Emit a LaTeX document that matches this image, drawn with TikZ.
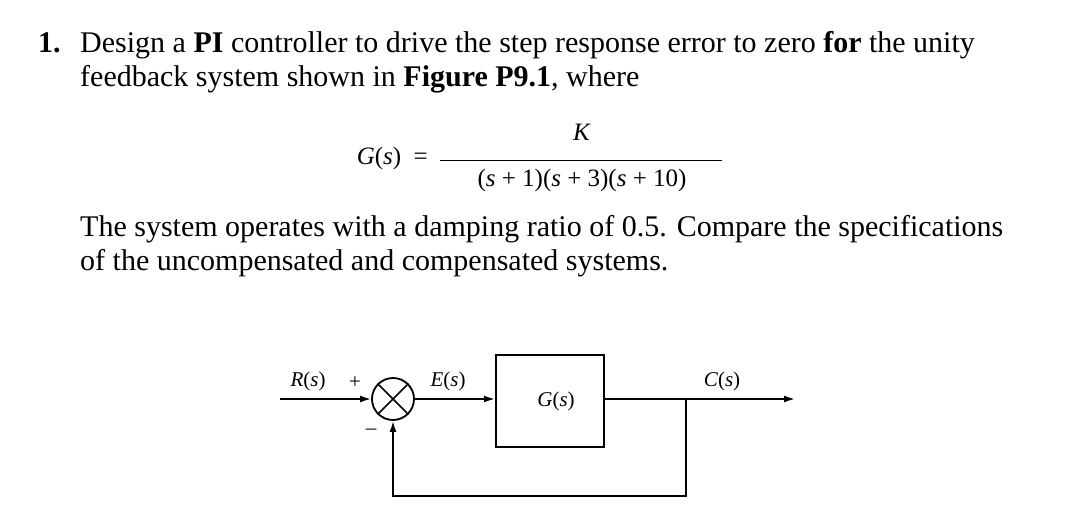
\documentclass[tikz,border=0pt]{standalone}
\usepackage{fontspec}
\setmainfont{Liberation Serif}
\usetikzlibrary{arrows.meta}
\newcommand{\iv}[1]{\textit{#1}}
\begin{document}
\begin{tikzpicture}[x=1pt,y=-1pt,
  txt/.style={anchor=base west,inner sep=0pt,font=\fontsize{30}{34}\selectfont},
  lbl/.style={inner sep=0pt,font=\fontsize{21}{24}\selectfont},
  sig/.style={line width=1.8pt},
  arr/.style={sig,-{Latex[length=11pt,width=7pt]}}]
\useasboundingbox (0,0) rectangle (1080,522);
\node[txt] (n1) at (38,52) {\textbf{1.}};
\node[txt] (l1) at (80,52) {Design a \textbf{PI} controller to drive the step response error to zero \textbf{for} the unity};
\node[txt] (l2) at (80,86) {feedback system shown in \textbf{Figure P9.1}, where};
\node[inner sep=0pt,anchor=east,font=\fontsize{25}{28}\selectfont] (eq) at (428,158) {\iv{G}(\iv{s})\ \ =};
\node[inner sep=0pt,font=\fontsize{25}{28}\selectfont,anchor=base] (num) at (582,140) {\iv{K}};
\node[inner sep=0pt,font=\fontsize{25}{28}\selectfont,anchor=base] (den) at (582,186) {(\iv{s} + 1)(\iv{s} + 3)(\iv{s} + 10)};
\draw[line width=1pt] (440,160) -- (722,160);
\node[txt] (l3) at (80,236) {The system operates with a damping ratio of 0.5. Compare the specifications};
\node[txt] (l4) at (80,270) {of the uncompensated and compensated systems.};
% block diagram
\node[draw,circle,line width=1.8pt,minimum size=42pt,inner sep=0pt] (sum) at (393,399) {};
\draw[line width=1.5pt] (sum.45)--(sum.225) (sum.135)--(sum.315);
\node[draw,line width=2pt,minimum width=108pt,minimum height=92pt,inner sep=0pt] (G) at (550,401) {};
\node[lbl] (Gl) at (556,401) {\iv{G}(\iv{s})};
\coordinate (in) at (280,399);
\coordinate (br) at (686,399);
\coordinate (out) at (795,399);
\coordinate (c1) at (686,496);
\coordinate (c2) at (393,496);
\draw[arr] (in) -- (sum.west);
\draw[arr] (sum.east) -- (G.west |- sum);
\draw[sig] (G.east |- sum) -- (br);
\draw[arr] (br) -- (out);
\draw[arr] (br) -- (c1) -- (c2) -- (sum.south);
\node[lbl] (R) at (308,381) {\iv{R}(\iv{s})};
\node[lbl] (E) at (448,381) {\iv{E}(\iv{s})};
\node[lbl] (C) at (722,381) {\iv{C}(\iv{s})};
\node[lbl] (p) at (355,383) {+};
\node[lbl] (m) at (371,432) {\textendash};
\end{tikzpicture}
\end{document}
